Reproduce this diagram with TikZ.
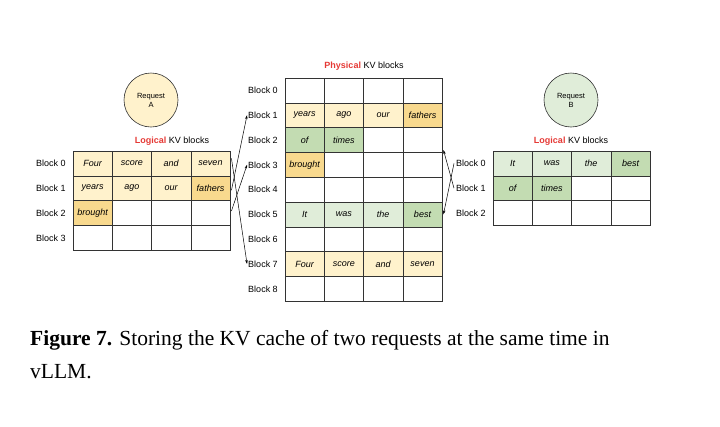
\documentclass[tikz,border=0pt]{standalone}
\usepackage{fontspec}
\setmainfont{Liberation Serif}
\newfontfamily\diagfont{Liberation Sans}
\usetikzlibrary{arrows.meta}
\definecolor{lyellow}{HTML}{FFF2CC}
\definecolor{dyellow}{HTML}{F8D98E}
\definecolor{lgreen}{HTML}{E0EDD9}
\definecolor{dgreen}{HTML}{C3DCB2}
\definecolor{titlered}{HTML}{E53935}
\tikzset{
  cell/.style={draw=black!80, line width=0.6pt, minimum width=39.3pt, minimum height=24.8pt, inner sep=0pt, font=\diagfont\fontsize{9}{9}\selectfont\itshape},
  lbl/.style={font=\diagfont\fontsize{9}{9}\selectfont, inner sep=1pt},
  req/.style={circle, draw=black!80, line width=0.6pt, minimum size=54pt, align=center, font=\diagfont\fontsize{7.5}{9}\selectfont},
  map/.style={-{Stealth[length=4pt,width=2.5pt]}, line width=0.5pt}
}
\begin{document}
\begin{tikzpicture}[x=1pt,y=-1pt]
\useasboundingbox (0,0) rectangle (720,426);
% request circles and titles
\node[req, fill=lyellow] (reqA) at (151,100) {Request\\A};
\node[req, fill=lgreen] (reqB) at (571,100) {Request\\B};
\node[lbl] (titleP) at (364,66) {\textcolor{titlered}{\textbf{Physical}} KV blocks};
\node[lbl] (titleL) at (172,141) {\textcolor{titlered}{\textbf{Logical}} KV blocks};
\node[lbl] (titleR) at (571,141) {\textcolor{titlered}{\textbf{Logical}} KV blocks};
% grids
\foreach \r in {0,...,3} {
  \node[lbl] (LB\r) at (51,163.4+24.8*\r) {Block \r};
  \foreach \c in {0,...,3}
    \node[cell] (L-\r-\c) at (92.6+39.3*\c,163.4+24.8*\r) {};
}
\foreach \r in {0,...,8} {
  \node[lbl] (PB\r) at (263,90.4+24.8*\r) {Block \r};
  \foreach \c in {0,...,3}
    \node[cell] (P-\r-\c) at (304.6+39.3*\c,90.4+24.8*\r) {};
}
\foreach \r in {0,...,2} {
  \node[lbl, anchor=west] (RB\r) at (455,163.4+24.8*\r) {Block \r};
  \foreach \c in {0,...,3}
    \node[cell] (R-\r-\c) at (512.6+39.3*\c,163.4+24.8*\r) {};
}
% filled cells
\foreach \g/\w/\f in {L-0-0/Four/lyellow, L-0-1/score/lyellow, L-0-2/and/lyellow, L-0-3/seven/lyellow,
  L-1-0/years/lyellow, L-1-1/ago/lyellow, L-1-2/our/lyellow, L-1-3/fathers/dyellow, L-2-0/brought/dyellow,
  P-1-0/years/lyellow, P-1-1/ago/lyellow, P-1-2/our/lyellow, P-1-3/fathers/dyellow,
  P-2-0/of/dgreen, P-2-1/times/dgreen, P-3-0/brought/dyellow,
  P-5-0/It/lgreen, P-5-1/was/lgreen, P-5-2/the/lgreen, P-5-3/best/dgreen,
  P-7-0/Four/lyellow, P-7-1/score/lyellow, P-7-2/and/lyellow, P-7-3/seven/lyellow,
  R-0-0/It/lgreen, R-0-1/was/lgreen, R-0-2/the/lgreen, R-0-3/best/dgreen,
  R-1-0/of/dgreen, R-1-1/times/dgreen}
  \node[cell, fill=\f] at (\g) {\w};
% mappings
\coordinate (a0) at ([xshift=1pt,yshift=5pt]L-0-3.east);
\coordinate (a1) at ([xshift=1pt,yshift=-2pt]L-1-3.east);
\coordinate (a2) at ([xshift=1pt,yshift=2pt]L-2-3.east);
\draw[map] (a0) -- (PB7.west);
\draw[map] (a1) -- (PB1.west);
\draw[map] (a2) -- (PB3.west);
\coordinate (b0) at ([xshift=-1pt]RB0.west);
\coordinate (b1) at ([xshift=-1pt]RB1.west);
\draw[map] (b0) -- ([xshift=1pt]P-5-3.east);
\draw[map] (b1) -- ([xshift=1pt,yshift=-10pt]P-2-3.east);
% caption
\node[anchor=north west, align=flush left, text width=625pt, font=\fontsize{21.5}{33}\selectfont, inner sep=0pt] (cap) at (30,330)
  {\textbf{Figure 7.} Storing the KV cache of two requests at the same time in vLLM.};
\end{tikzpicture}
\end{document}
